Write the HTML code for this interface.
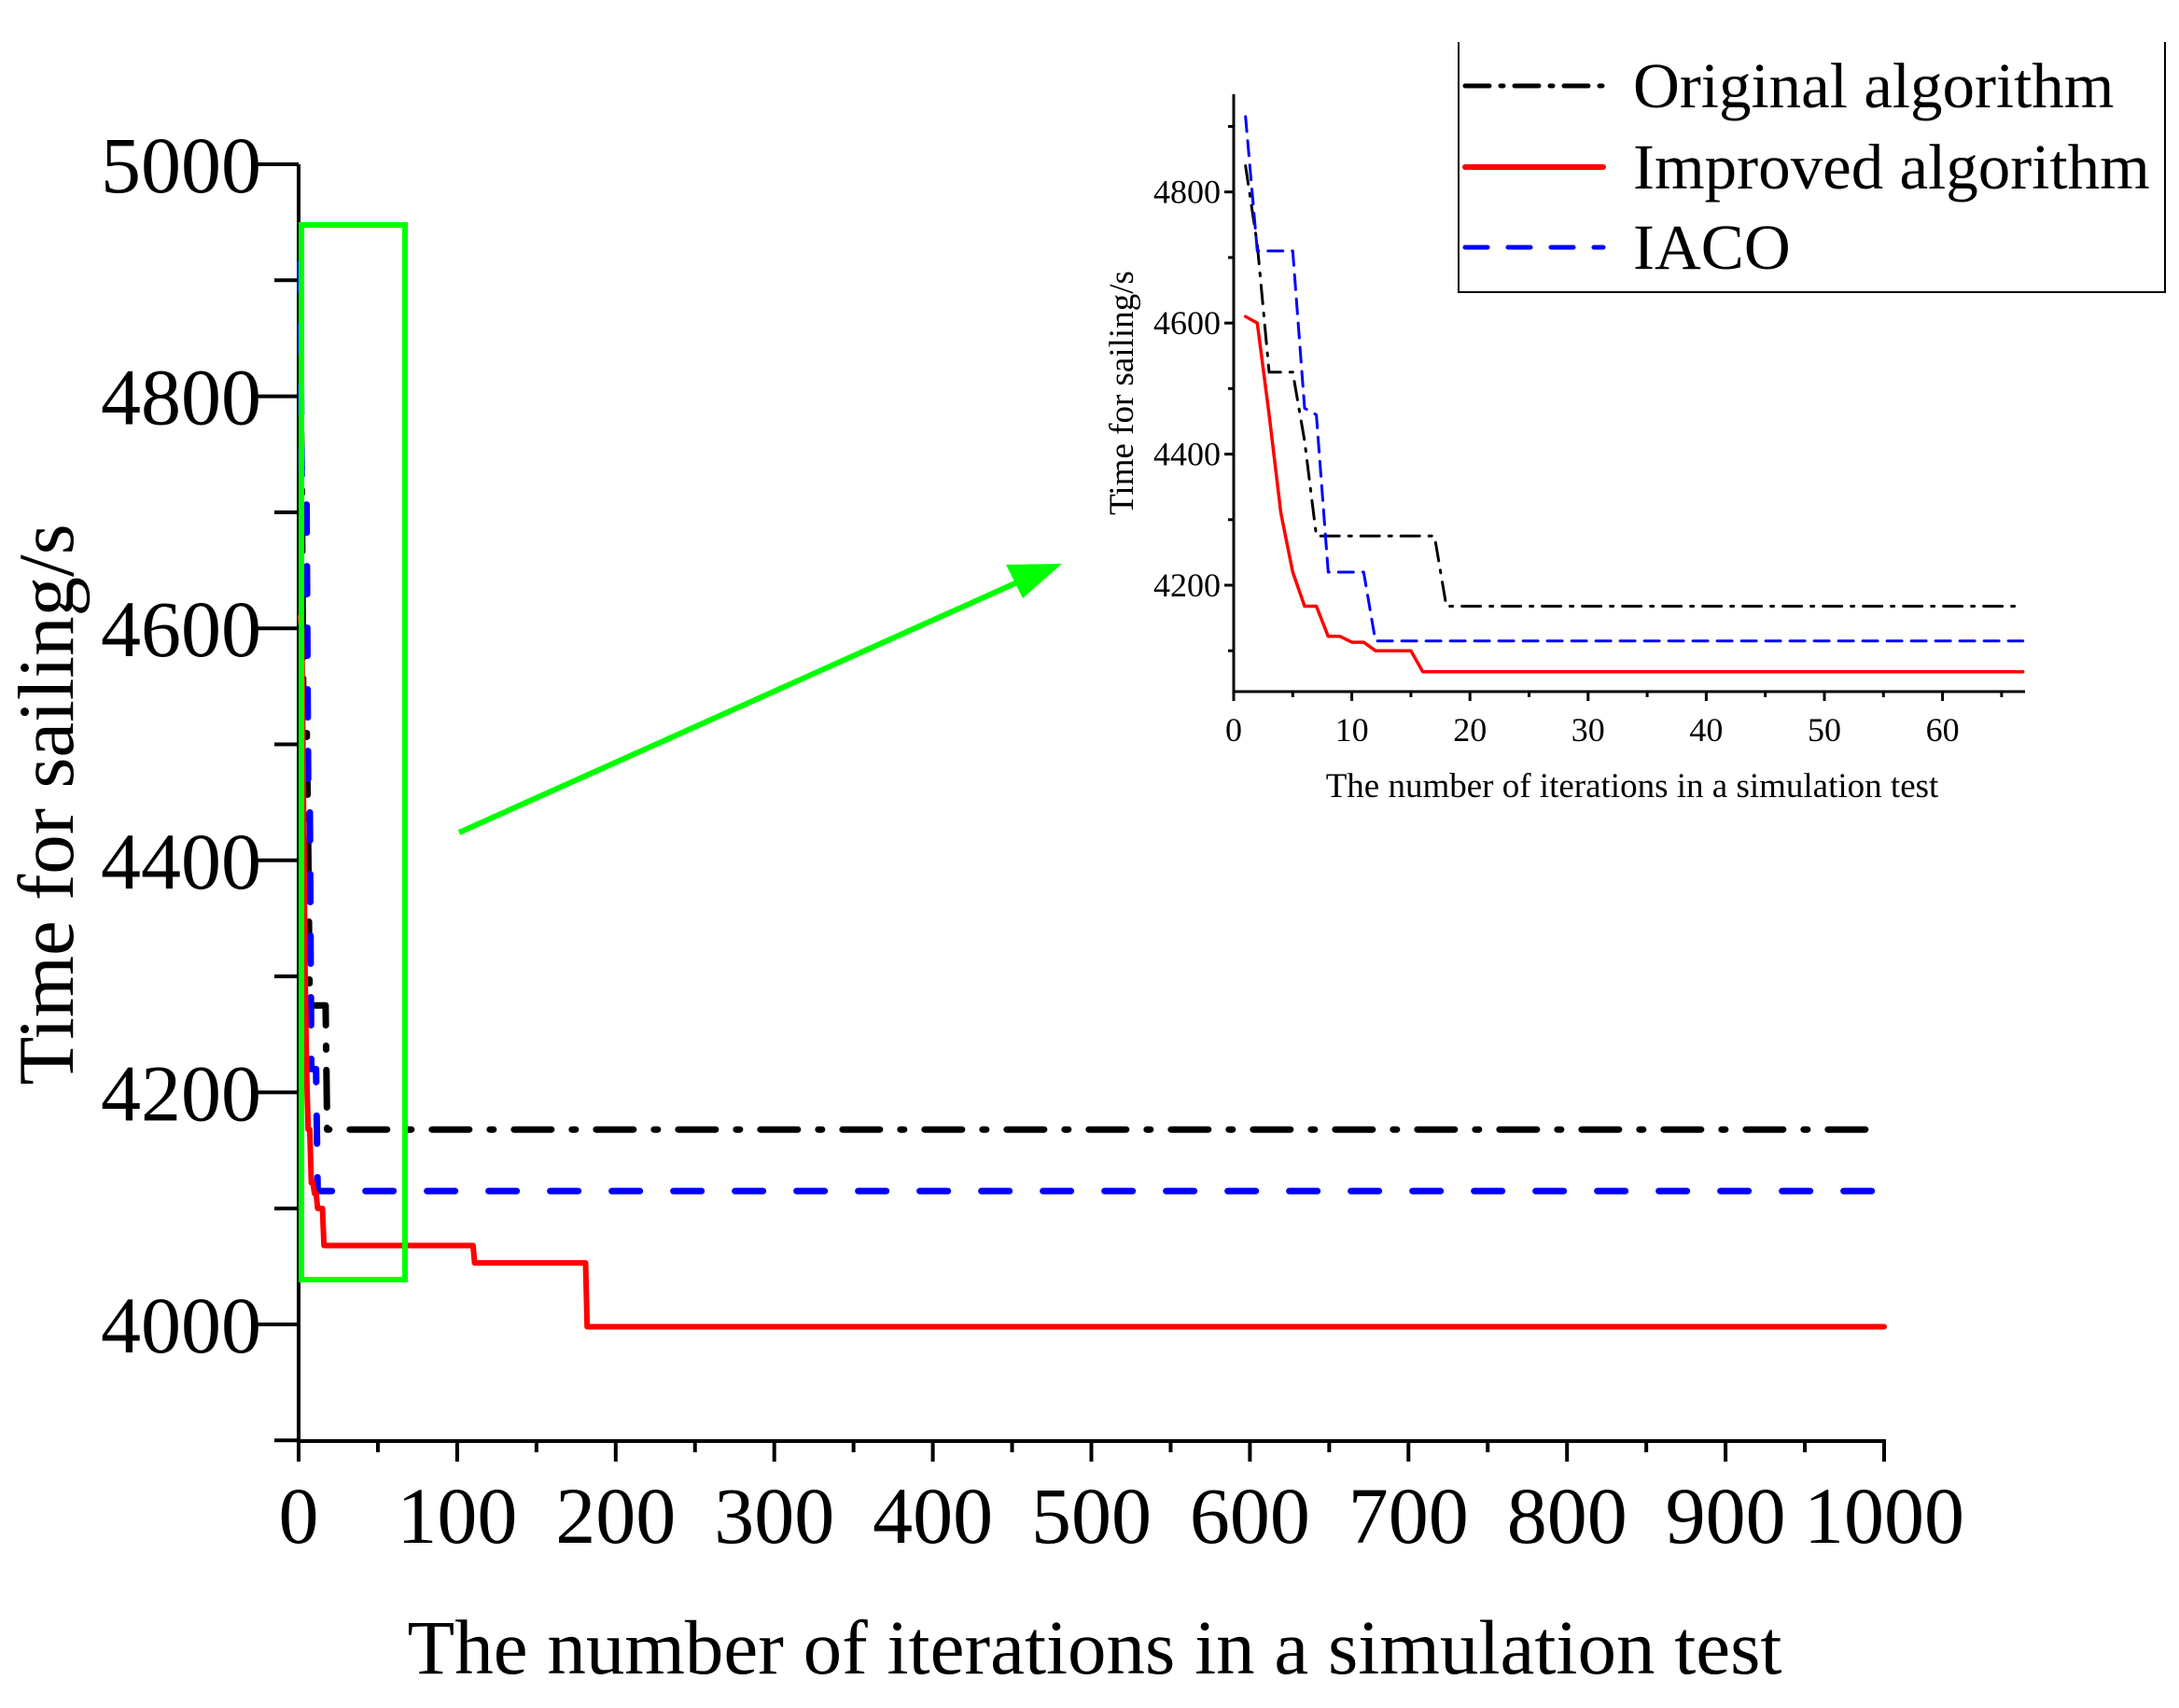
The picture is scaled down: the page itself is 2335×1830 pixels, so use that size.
<!DOCTYPE html>
<html><head><meta charset="utf-8"><style>
html,body{margin:0;padding:0;background:#fff}
svg{display:block}
text{font-family:"Liberation Serif",serif;fill:#000}
</style></head><body>
<svg id="chart" width="2335" height="1830" viewBox="0 0 2335 1830"></svg>
<script>
// ---- data ----
const iterOriginal = [1,2,3,5,6,7,17,18,1000];
const valOriginal  = [4840,4720,4525,4525,4420,4275,4275,4168,4168];
const iterIACO     = [1,2,5,6,7,8,11,12,1000];
const valIACO      = [4915,4710,4710,4470,4460,4220,4220,4115,4115];
const iterImproved = [1,2,3,4,5,6,7,8,9,10,11,12,15,16,110,111,181,182,1000];
const valImproved  = [4610,4600,4460,4310,4220,4168,4168,4122,4122,4113,4113,4100,4100,4068,4068,4053,4053,3998,3998];
const mainXTicks = [0,100,200,300,400,500,600,700,800,900,1000];
const mainYTicks = [4000,4200,4400,4600,4800,5000];
const insetXTicks = [0,10,20,30,40,50,60];
const insetYTicks = [4200,4400,4600,4800];

const NS='http://www.w3.org/2000/svg';
const svg=document.getElementById('chart');
function mk(tag,attrs,parent){const e=document.createElementNS(NS,tag);for(const k in attrs)e.setAttribute(k,attrs[k]);(parent||svg).appendChild(e);return e;}

const mx=v=>320+(v/1000)*1699;
const my=v=>1419-(v-4000)*1.243;
const ix=v=>1322+v*12.66;
const iy=v=>627-(v-4200)*0.7022;

function series(xs,ys,sx,sy,xmax,color,w,dash,name,g){
  let d='';
  for(let i=0;i<xs.length;i++){const x=Math.min(xs[i],xmax);d+=(i?'L':'M')+sx(x).toFixed(1)+' '+sy(ys[i]).toFixed(1)+' ';if(xs[i]>=xmax)break;}
  const p=mk('path',{d:d,fill:'none',stroke:color,'stroke-width':w,'stroke-dasharray':dash,'stroke-linecap':'round','stroke-linejoin':'round'},g);
  
  
  return p;
}

// ---- main plot ----
const gm=mk('g',{});


mk('line',{x1:320,y1:176,x2:320,y2:1546,stroke:'#000','stroke-width':4},gm);
mk('line',{x1:318,y1:1544,x2:2021,y2:1544,stroke:'#000','stroke-width':4},gm);
for(let v=0;v<=1000;v+=50){
  const major=v%100===0;
  mk('line',{x1:mx(v),y1:1544,x2:mx(v),y2:1544+(major?22:12),stroke:'#000','stroke-width':4},gm);
}
mainXTicks.forEach(v=>{const t=mk('text',{x:mx(v),y:1653,'font-size':86,'text-anchor':'middle'},gm);t.textContent=v;
  });
for(let v=3900;v<=5000;v+=100){
  const major=v%200===0;
  mk('line',{x1:320-(major?44:26),y1:my(v),x2:320,y2:my(v),stroke:'#000','stroke-width':4},gm);
}
mainYTicks.forEach(v=>{const t=mk('text',{x:280,y:my(v)+30,'font-size':86,'text-anchor':'end'},gm);t.textContent=v;
  });
let t=mk('text',{x:1173,y:1793,'font-size':83,'text-anchor':'middle'},gm);t.textContent='The number of iterations in a simulation test';

t=mk('text',{x:78,y:862,'font-size':85,'text-anchor':'middle',transform:'rotate(-90 78 862)'},gm);t.textContent='Time for sailing/s';


series(iterOriginal,valOriginal,mx,my,1000,'#000',7,'40 22 4 22','original-line-main',gm);
series(iterIACO,valIACO,mx,my,1000,'#0000ff',7,'30 36','iaco-line-main',gm);
series(iterImproved,valImproved,mx,my,1000,'#ff0000',6,'none','improved-line-main',gm);

const rect=mk('rect',{x:323,y:241,width:111,height:1130,fill:'none',stroke:'#00ff00','stroke-width':6},gm);

const arr=mk('g',{},gm);

mk('line',{x1:492,y1:892,x2:1090,y2:624,stroke:'#00ff00','stroke-width':6},arr);
mk('polygon',{points:'1138,604 1078,605 1096,641',fill:'#00ff00'},arr);

// ---- inset ----
const gi=mk('g',{});


mk('line',{x1:1322,y1:101,x2:1322,y2:742,stroke:'#000','stroke-width':3},gi);
mk('line',{x1:1321,y1:741,x2:2170,y2:741,stroke:'#000','stroke-width':3},gi);
for(let v=0;v<=65;v+=5){mk('line',{x1:ix(v),y1:741,x2:ix(v),y2:741+(v%10===0?10:6),stroke:'#000','stroke-width':3},gi);}
insetXTicks.forEach(v=>{const e=mk('text',{x:ix(v),y:794,'font-size':36,'text-anchor':'middle'},gi);e.textContent=v;
  });
for(let v=4100;v<=4900;v+=100){mk('line',{x1:1322-(v%200===0?10:6),y1:iy(v),x2:1322,y2:iy(v),stroke:'#000','stroke-width':3},gi);}
insetYTicks.forEach(v=>{const e=mk('text',{x:1308,y:iy(v)+12,'font-size':36,'text-anchor':'end'},gi);e.textContent=v;
  });
t=mk('text',{x:1749,y:854,'font-size':37,'text-anchor':'middle'},gi);t.textContent='The number of iterations in a simulation test';

t=mk('text',{x:1214,y:421,'font-size':37,'text-anchor':'middle',transform:'rotate(-90 1214 421)'},gi);t.textContent='Time for sailing/s';

series(iterOriginal,valOriginal,ix,iy,66.8,'#000',3,'20 10 3 10','original-line-inset',gi);
series(iterIACO,valIACO,ix,iy,66.8,'#0000ff',3,'16 10','iaco-line-inset',gi);
series(iterImproved,valImproved,ix,iy,66.8,'#ff0000',3.5,'none','improved-line-inset',gi);

// ---- legend ----
const gl=mk('g',{});


mk('polyline',{points:'1563,45 1563,313 2320,313 2320,45',fill:'none',stroke:'#000','stroke-width':2},gl);
const legNames=['Original algorithm','Improved algorithm','IACO'];
const legColors=['#000','#ff0000','#0000ff'];
const legDash=['26 12 3 12','none','24 22'];
const legY=[92,179,265];
legNames.forEach((n,i)=>{
  const ge=mk('g',{},gl);
  
  
  mk('line',{x1:1570,y1:legY[i],x2:1718,y2:legY[i],stroke:legColors[i],'stroke-width':i===1?6:5,'stroke-dasharray':legDash[i],'stroke-linecap':'round'},ge);
  const e=mk('text',{x:1750,y:legY[i]+23,'font-size':69},ge);e.textContent=n;
});
</script>
</body></html>
